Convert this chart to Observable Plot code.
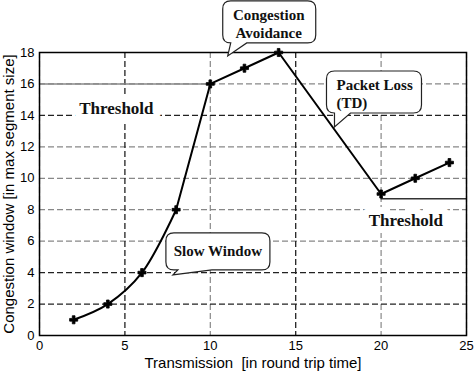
<!DOCTYPE html>
<html>
<head>
<meta charset="utf-8">
<script src="https://cdn.jsdelivr.net/npm/d3@7"></script>
<script src="https://cdn.jsdelivr.net/npm/@observablehq/plot@0.6"></script>
<style>
  html, body { margin: 0; padding: 0; background: #fff; }
</style>
</head>
<body>
<div id="chart"></div>
<script>
// ---- data ----
const rounds = [2, 4, 6, 8, 10, 12, 14, 20, 22, 24];
const cwnd   = [1, 2, 4, 8, 16, 17, 18, 9, 10, 11];
const slowStartCount = 4; // first points drawn as a smooth curve

const xTicks = [0, 5, 10, 15, 20, 25];
const yTicks = [0, 2, 4, 6, 8, 10, 12, 14, 16, 18];
const xTicksDark = [5, 15];
const yTicksDark = [2, 4, 14];

const thresholdValues = [16, 8.7];
const thresholdFrom = [0, 20];
const thresholdTo = [10, 25];

const thresholdLabels = ["Threshold", "Threshold"];
const thresholdLabelX = [4.5, 21.45];
const thresholdLabelY = [14.45, 7.3];

const xLabel = "Transmission\u00a0 [in round trip time]";
const yLabel = "Congestion window [in max segment size]";

// callouts: text lines, tip (data coords)
const callouts = [
  {lines: ["Congestion", "Avoidance"], tip: [11.05, 17.75], box: [-5, -55, 93, 42], base: [8, 24], align: "middle", baselines: [19, 37], textX: 46},
  {lines: ["Packet Loss", "(TD)"], tip: [17.3, 13.23], box: [-8, -56, 95, 42], base: [8, 24], align: "start", baselines: [19, 37], textX: 10},
  {lines: ["Slow Window"], tip: [7.84, 3.82], box: [-7, -42, 104, 37], base: [12, 46], align: "middle", baselines: [23], textX: 52}
];

// ---- build tables ----
const pts = rounds.map((r, i) => ({x: r, y: cwnd[i]}));
const slowPts = pts.slice(0, slowStartCount);
const restPts = pts.slice(slowStartCount - 1);
const thresholds = thresholdValues.map((v, i) => ({y: v, x1: thresholdFrom[i], x2: thresholdTo[i]}));
const thLabels = thresholdLabels.map((t, i) => ({t, x: thresholdLabelX[i], y: thresholdLabelY[i]}));

const dash = "6,3";
const svg = Plot.plot({
  width: 474,
  height: 371,
  marginLeft: 39,
  marginRight: 8,
  marginTop: 52,
  marginBottom: 36,
  style: {fontFamily: "'Liberation Sans', Arial, sans-serif", fontSize: "13px", background: "#fff", color: "#000"},
  x: {domain: [0, 25], ticks: xTicks, tickSize: 0, tickPadding: 5, label: null},
  y: {domain: [0, 18], ticks: yTicks, tickSize: 0, tickPadding: 5, label: null},
  marks: [
    Plot.ruleX(xTicks.filter(d => !xTicksDark.includes(d)), {stroke: "#888", strokeDasharray: dash, strokeWidth: 1.2}),
    Plot.ruleY(yTicks.filter(d => !yTicksDark.includes(d)), {stroke: "#888", strokeDasharray: dash, strokeWidth: 1.2}),
    Plot.ruleX(xTicksDark, {stroke: "#222", strokeDasharray: dash, strokeWidth: 1.3}),
    Plot.ruleY(yTicksDark, {stroke: "#222", strokeDasharray: dash, strokeWidth: 1.3}),
    Plot.ruleY(thresholds, {y: "y", x1: "x1", x2: "x2", stroke: (d) => d.y > 12 ? "#888" : "#333", strokeWidth: 1.6}),
    Plot.text(thLabels, {x: "x", y: "y", text: "t", fontFamily: "'Liberation Serif', 'Times New Roman', serif", fontWeight: "bold", fontSize: 17, fill: "#111", stroke: "#fff", strokeWidth: 14, paintOrder: "stroke"}),
    Plot.frame({stroke: "#000", strokeWidth: 1.5}),
    Plot.line(slowPts, {x: "x", y: "y", curve: "catmull-rom", stroke: "#000", strokeWidth: 2}),
    Plot.line(restPts, {x: "x", y: "y", stroke: "#000", strokeWidth: 2}),
    Plot.dot(pts, {x: "x", y: "y", symbol: "cross", r: 3.4, fill: "#000", stroke: "#000", strokeWidth: 0.8}),
    Plot.text([xLabel], {frameAnchor: "bottom", dy: 28, lineAnchor: "middle", textAnchor: "middle", fontSize: 15, fill: "#000"}),
    Plot.text([yLabel], {frameAnchor: "left", dx: -30.5, rotate: -90, textAnchor: "middle", lineAnchor: "middle", fontSize: 15, fill: "#000"})
  ]
});

// ---- callouts drawn with the chart's own scales ----
const sx = svg.scale("x"), sy = svg.scale("y");
function calloutPath(L, T, W, H, R, b1, b2, tx, ty) {
  const Rr = L + W, B = T + H;
  return `M${L + R},${T}H${Rr - R}Q${Rr},${T} ${Rr},${T + R}V${B - R}Q${Rr},${B} ${Rr - R},${B}` +
         `H${L + b2}L${tx},${ty}L${L + b1},${B}H${L + R}Q${L},${B} ${L},${B - R}V${T + R}Q${L},${T} ${L + R},${T}Z`;
}
const g = d3.select(svg).append("g");
callouts.forEach(c => {
  const tx = sx.apply(c.tip[0]), ty = sy.apply(c.tip[1]);
  const L = tx + c.box[0], T = ty + c.box[1], W = c.box[2], H = c.box[3];
  g.append("path")
    .attr("d", calloutPath(L, T, W, H, 8, c.base[0], c.base[1], tx, ty))
    .attr("fill", "#fff").attr("stroke", "#222").attr("stroke-width", 1.2);
  c.lines.forEach((line, i) => {
    g.append("text")
      .attr("x", L + c.textX).attr("y", T + c.baselines[i])
      .attr("text-anchor", c.align)
      .attr("font-family", "'Liberation Serif', 'Times New Roman', serif")
      .attr("font-weight", "bold").attr("font-size", 15).attr("fill", "#111")
      .text(line);
  });
});

document.getElementById("chart").appendChild(svg);
</script>
</body>
</html>
